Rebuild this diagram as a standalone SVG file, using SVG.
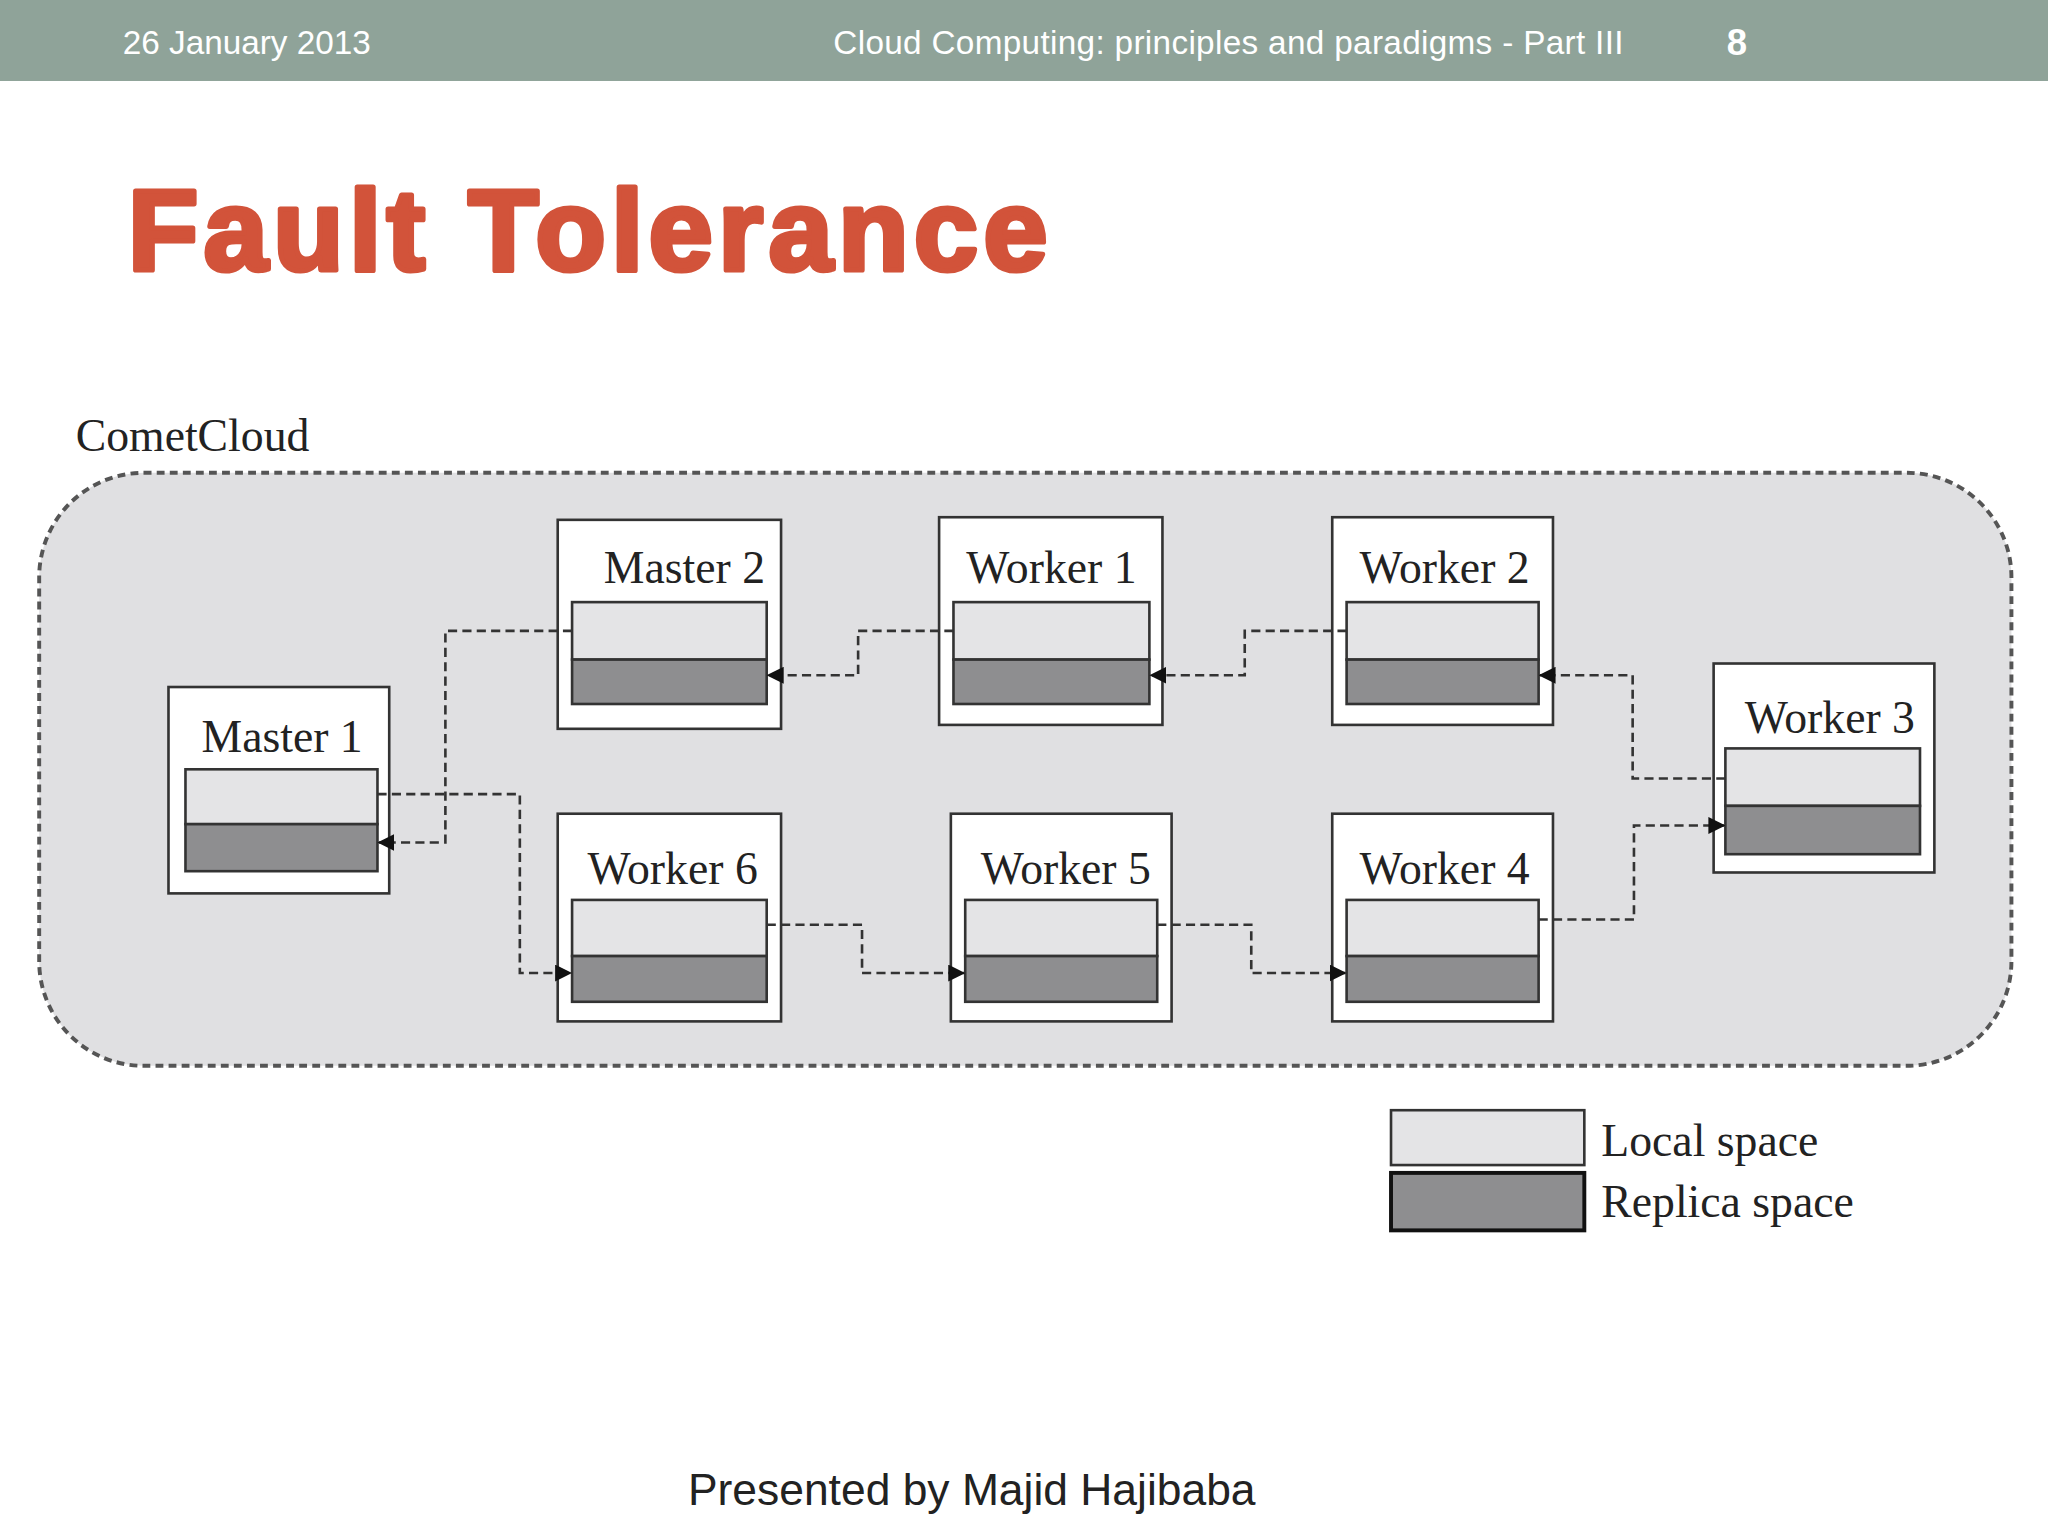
<svg xmlns="http://www.w3.org/2000/svg" width="2048" height="1536" viewBox="0 0 2048 1536">
<style>
.hd{font-family:"Liberation Sans",Arial,sans-serif;font-size:25.5px;fill:#fff}
.lb{font-family:"Liberation Serif","Times New Roman",serif;font-size:35px;fill:#222}
.box{fill:#fff;stroke:#333;stroke-width:2}
.loc{fill:#e4e4e6;stroke:#333;stroke-width:2}
.rep{fill:#8e8e90;stroke:#333;stroke-width:2}
.cn{fill:none;stroke:#333;stroke-width:2;stroke-dasharray:7,4;marker-end:url(#ah)}
</style>
<defs>
<marker id="ah" markerWidth="13" markerHeight="13" refX="12" refY="6.5" orient="auto" markerUnits="userSpaceOnUse">
<path d="M0,0 L13,6.5 L0,13 z" fill="#111"/>
</marker>
</defs>
<rect width="2048" height="1536" fill="#fff"/>
<g transform="scale(1.30612)">
<rect x="0" y="0" width="1568" height="62" fill="#8fa399"/>
<text class="hd" x="94" y="41">26 January 2013</text>
<text class="hd" x="638" y="41" textLength="605">Cloud Computing: principles and paradigms - Part III</text>
<text class="hd" x="1322" y="42" style="font-weight:bold;font-size:28px">8</text>
<text x="98" y="207" textLength="704" lengthAdjust="spacing" style="font-family:'Liberation Sans',Arial,sans-serif;font-weight:900;font-size:88px;fill:#d2533a;stroke:#d2533a;stroke-width:4;stroke-linejoin:round">Fault Tolerance</text>
<text class="lb" x="58" y="345">CometCloud</text>
<rect x="30" y="362" width="1510" height="454" rx="80" ry="80" fill="#e0e0e2" stroke="#555" stroke-width="3" stroke-dasharray="6,4"/>

<g id="master2"><rect class="box" x="427" y="398" width="171" height="160"/><text class="lb" x="524" y="446" text-anchor="middle">Master 2</text><rect class="loc" x="438" y="461" width="149" height="44"/><rect class="rep" x="438" y="505" width="149" height="34"/></g>
<g id="worker1"><rect class="box" x="719" y="396" width="171" height="159"/><text class="lb" x="805" y="446" text-anchor="middle">Worker 1</text><rect class="loc" x="730" y="461" width="150" height="44"/><rect class="rep" x="730" y="505" width="150" height="34"/></g>
<g id="worker2"><rect class="box" x="1020" y="396" width="169" height="159"/><text class="lb" x="1106" y="446" text-anchor="middle">Worker 2</text><rect class="loc" x="1031" y="461" width="147" height="44"/><rect class="rep" x="1031" y="505" width="147" height="34"/></g>
<g id="worker3"><rect class="box" x="1312" y="508" width="169" height="160"/><text class="lb" x="1401" y="561" text-anchor="middle">Worker 3</text><rect class="loc" x="1321" y="573" width="149" height="44"/><rect class="rep" x="1321" y="617" width="149" height="37"/></g>
<g id="master1"><rect class="box" x="129" y="526" width="169" height="158"/><text class="lb" x="216" y="576" text-anchor="middle">Master 1</text><rect class="loc" x="142" y="589" width="147" height="42"/><rect class="rep" x="142" y="631" width="147" height="36"/></g>
<g id="worker6"><rect class="box" x="427" y="623" width="171" height="159"/><text class="lb" x="515" y="677" text-anchor="middle">Worker 6</text><rect class="loc" x="438" y="689" width="149" height="43"/><rect class="rep" x="438" y="732" width="149" height="35"/></g>
<g id="worker5"><rect class="box" x="728" y="623" width="169" height="159"/><text class="lb" x="816" y="677" text-anchor="middle">Worker 5</text><rect class="loc" x="739" y="689" width="147" height="43"/><rect class="rep" x="739" y="732" width="147" height="35"/></g>
<g id="worker4"><rect class="box" x="1020" y="623" width="169" height="159"/><text class="lb" x="1106" y="677" text-anchor="middle">Worker 4</text><rect class="loc" x="1031" y="689" width="147" height="43"/><rect class="rep" x="1031" y="732" width="147" height="35"/></g>

<g id="connectors">
<path class="cn" d="M438,483 H341 V645 H290"/>
<path class="cn" d="M730,483 H657 V517 H588"/>
<path class="cn" d="M1031,483 H953 V517 H881"/>
<path class="cn" d="M1321,596 H1250 V517 H1179"/>
<path class="cn" d="M1178,704 H1251 V632 H1320"/>
<path class="cn" d="M886,708 H958 V745 H1030"/>
<path class="cn" d="M587,708 H660 V745 H738"/>
<path class="cn" d="M289,608 H398 V745 H437"/>
</g>

<g id="legend">
<rect class="loc" x="1065" y="850" width="148" height="42"/>
<rect class="rep" x="1065" y="898" width="148" height="44" style="stroke:#111;stroke-width:3"/>
<text class="lb" x="1226" y="885">Local space</text>
<text class="lb" x="1226" y="932">Replica space</text>
</g>
<text x="744" y="1152" text-anchor="middle" style="font-family:'Liberation Sans',Arial,sans-serif;font-size:34px;fill:#222">Presented by Majid Hajibaba</text>
</g>
</svg>
